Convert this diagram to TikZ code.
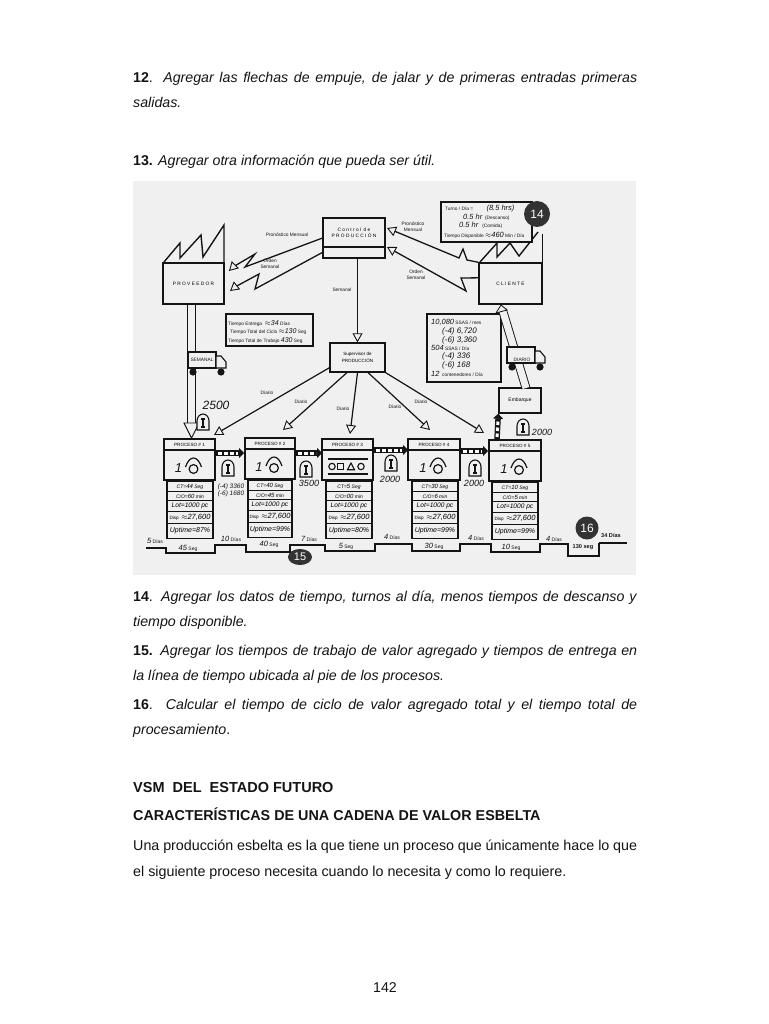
\documentclass[tikz,border=0pt]{standalone}
\usepackage{fontspec}
\setmainfont{Liberation Sans}
\usetikzlibrary{arrows.meta,calc,shapes.geometric}
\newcommand{\fsz}[1]{\fontsize{#1}{#1}\selectfont}
\newcommand{\bnum}[1]{{\itshape\fsz{9}#1}}
\definecolor{panel}{HTML}{F0F0F0}
\definecolor{badge}{HTML}{333333}
\definecolor{ink}{HTML}{141414}
\tikzset{
  x=1pt,y=-1pt,
  para/.style={anchor=base west,inner sep=0pt,font=\fsz{14.2},text=ink},
  boxn/.style={draw=ink,line width=1.4pt,fill=panel,inner sep=0pt,align=center,font=\fsz{4.6}},
  lab/.style={inner sep=0pt,align=center,font=\fsz{4.8},text=ink},
  tlab/.style={inner sep=0pt,font=\fsz{5},text=ink},
  infol/.style={anchor=base west,inner sep=0pt,font=\fsz{4.8},text=ink},
  openhead/.style={-{Triangle[open,fill=panel,length=9pt,width=10pt,line width=0.9pt]}},
  conn/.style={draw=ink,line width=1.2pt,openhead},
  zig/.style={draw=ink,line width=1.3pt,openhead},
  bigarrow/.style={draw=ink,line width=0.9pt,double=panel,double distance=7pt},
  badgen/.style={circle,fill=badge,text=white,inner sep=0pt,minimum size=24pt,font=\fsz{12}},
  tomb/.pic={
    \draw[ink,line width=1.1pt,fill=panel] (-6,8) -- (-6,-1) arc[start angle=180,end angle=360,x radius=6,y radius=7] -- (6,8) -- cycle;
    \draw[ink,line width=1.1pt] (0,-3) -- (0,5) (-2,-3) -- (2,-3) (-2,5) -- (2,5);
  },
  truck/.pic={
    \draw[ink,line width=1.1pt,fill=panel] (0,0) rectangle (28,16);
    \draw[ink,line width=1.1pt,fill=panel] (28,16) -- (28,4) -- (33,4) -- (38,10) -- (38,16) -- cycle;
    \fill[ink] (5,20) circle[radius=3.6] (33,20) circle[radius=3.6];
  },
}
\newcommand{\pusharrow}[2]{%
  \draw[ink,line width=5.5pt,-{Triangle[length=5pt,width=10pt]}] (#1) -- (#2);
  \draw[white,line width=3pt,dash pattern=on 3.5pt off 2.5pt,shorten >=6pt,shorten <=2pt] (#1) -- (#2);
}
\begin{document}
\begin{tikzpicture}
\useasboundingbox (0,0) rectangle (768,1024);
\fill[white] (0,0) rectangle (768,1024);

% page text
\node[para] (t1) at (133,83) {\makebox[504pt][s]{\textbf{12}. \textit{Agregar las flechas de empuje, de jalar y de primeras entradas primeras}}};
\node[para] (t2) at (133,108) {\textit{salidas.}};
\node[para] (t3) at (133,166) {\textbf{13.} \textit{Agregar otra información que pueda ser útil.}};
\node[para] (t4) at (133,601) {\makebox[504pt][s]{\textbf{14}. \textit{Agregar los datos de tiempo, turnos al día, menos tiempos de descanso y}}};
\node[para] (t5) at (133,626) {\textit{tiempo disponible.}};
\node[para] (t6) at (133,655) {\makebox[504pt][s]{\textbf{15.} \textit{Agregar los tiempos de trabajo de valor agregado y tiempos de entrega en}}};
\node[para] (t7) at (133,680) {\textit{la línea de tiempo ubicada al pie de los procesos.}};
\node[para] (t8) at (133,709) {\makebox[504pt][s]{\textbf{16}. \textit{Calcular el tiempo de ciclo de valor agregado total y el tiempo total de}}};
\node[para] (t9) at (133,734) {\textit{procesamiento}.};
\node[para,font=\fsz{14.5}] (t10) at (133,792) {\textbf{VSM\ \ DEL\ \ ESTADO FUTURO}};
\node[para,font=\fsz{14.35}] (t11) at (133,820) {\textbf{CARACTERÍSTICAS DE UNA CADENA DE VALOR ESBELTA}};
\node[para,font=\fsz{14.3}] (t12) at (133,850) {\makebox[504pt][s]{Una producción esbelta es la que tiene un proceso que únicamente hace lo que}};
\node[para,font=\fsz{14.3}] (t13) at (133,876) {el siguiente proceso necesita cuando lo necesita y como lo requiere.};
\node[para,anchor=base] (t14) at (385,992) {142};

% panel
\fill[panel] (133,181) rectangle (636,575);

% factories
\draw[ink,line width=1.4pt,line join=miter] (164,262) -- (180,243) -- (180,258) -- (201,235) -- (203,257) -- (224,225) -- (224,263);
\draw[ink,line width=1.4pt] (480,262) -- (497,243) -- (497,257) -- (510,243) -- (519,256) -- (538,232);
\draw[ink,line width=0.6pt] (542,234) -- (542,263);

% main boxes
\node[boxn,minimum width=61pt,minimum height=41pt,font=\fsz{4.8}] (prov) at (193.5,283.5) {P R O V E E D O R};
\node[boxn,minimum width=63pt,minimum height=41pt,font=\fsz{4.8}] (cli) at (510.5,283.5) {C L I E N T E};
\node[boxn,minimum width=62pt,minimum height=29pt,font=\fsz{4.8},align=center] (ctrl) at (354,232.5) {C o n t r o l\ \ d e\\[1.5pt]P R O D U C C I Ó N};
\node[boxn,minimum width=62pt,minimum height=11pt] (ctrlb) at (354,252.5) {};
\node[boxn,minimum width=55pt,minimum height=29pt,font=\fsz{4.6}] (sup) at (357.5,357.5) {Supervisor de\\[1.5pt]PRODUCCIÓN};
\node[boxn,minimum width=42pt,minimum height=25pt,font=\fsz{5}] (emb) at (520,400.5) {Embarque};

% info boxes
\node[boxn,minimum width=87pt,minimum height=32pt] (info1) at (269.5,330) {};
\node[infol] (i1a) at (228,325) {Tiempo Entrega {\itshape\fsz{7}\,$\approx$34} Días};
\node[infol] (i1b) at (230,333.5) {Tiempo Total del Ciclo {\itshape\fsz{7}$\approx$130} Seg};
\node[infol] (i1c) at (228,342) {Tiempo Total de Trabajo {\itshape\fsz{7}430} Seg};

\node[boxn,minimum width=91pt,minimum height=40pt] (info2) at (486.5,222) {};
\node[infol] (i2a) at (445,211) {Turno / Día = \hspace{12pt}{\itshape\fsz{7.5}(8.5 hrs)}};
\node[infol] (i2b) at (463,219) {{\itshape\fsz{7.5}0.5 hr}\ \ (Descanso)};
\node[infol] (i2c) at (459,228) {{\itshape\fsz{7.5}0.5 hr}\ \ \ (Comida)};
\node[infol] (i2d) at (444,237) {Tiempo Disponible {\itshape\fsz{7.5}$\approx$460} Min / Día};

\node[boxn,minimum width=74pt,minimum height=68pt] (info3) at (464,348) {};
\node[infol] (i3a) at (431,324) {{\itshape\fsz{7.5}10,080} SSAS / mes};
\node[infol] (i3b) at (442,333) {\itshape\fsz{8}(-4) 6,720};
\node[infol] (i3c) at (442,342) {\itshape\fsz{8}(-6) 3,360};
\node[infol] (i3d) at (431,350) {{\itshape\fsz{7.5}504} SSAS / Día};
\node[infol] (i3e) at (442,358) {\itshape\fsz{8}(-4) 336};
\node[infol] (i3f) at (442,367) {\itshape\fsz{8}(-6) 168};
\node[infol] (i3g) at (431,376) {{\itshape\fsz{7.5}12}\ \ contenedores / Día};

% badges
\node[badgen,minimum size=26pt] (b14) at (537,214) {14};
\node[badgen,minimum size=23pt] (b16) at (587,528) {16};
\node[ellipse,fill=badge,text=white,inner sep=0pt,minimum width=24pt,minimum height=16pt,font=\fsz{11}] (b15) at (300,557) {15};

% processes
\foreach \n/\xa/\xb/\ya/\da/\db/\ttl/\ct/\co/\upt in {
  p1/164/215/439/167/213/1/44/60/87,
  p2/245/295/438/248/292/2/40/45/99,
  p3/322/373/439/326/372/3/5/00/80,
  p4/408/460/439/412/458/4/30/6/99,
  p5/489/541/440/492/538/5/10/5/99}{
  \pgfmathsetmacro\pmx{(\xa+\xb)/2}
  \pgfmathsetmacro\pwid{\xb-\xa}
  \pgfmathsetmacro\dmx{(\da+\db)/2}
  \pgfmathsetmacro\dwid{\db-\da}
  \node[boxn,minimum width=\pwid pt,minimum height=11pt,font=\fsz{4.6}] (\n h) at (\pmx,\ya+5.5) {PROCESO \# \ttl};
  \node[boxn,minimum width=\pwid pt,minimum height=30pt] (\n b) at (\pmx,\ya+26) {};
  \node[boxn,minimum width=\dwid pt,minimum height=9.5pt,font=\fsz{5}\itshape] (\n d1) at (\dmx,\ya+47.5) {CT={\fsz{6}\ct} Seg};
  \node[boxn,minimum width=\dwid pt,minimum height=9.5pt,font=\fsz{5}\itshape] (\n d2) at (\dmx,\ya+57) {C/O={\fsz{6}\co} min};
  \node[boxn,minimum width=\dwid pt,minimum height=11pt,font=\fsz{6.6}\itshape] (\n d3) at (\dmx,\ya+67.2) {Lot=1000 pc};
  \node[boxn,minimum width=\dwid pt,minimum height=12pt,font=\fsz{4.6}] (\n d4) at (\dmx,\ya+78.7) {Disp\ \ {\itshape\fsz{7.5}$\approx$27,600}};
  \node[boxn,minimum width=\dwid pt,minimum height=14.5pt,font=\fsz{7}\itshape] (\n d5) at (\dmx,\ya+92) {Uptime=\upt\%};
}
% operator icons
\foreach \n in {p1,p2,p4,p5}{
  \node[inner sep=0pt,font=\fsz{13}\itshape,text=ink] (\n one) at ($(\n b.center)+(-11,3)$) {1};
  \draw[ink,line width=1.2pt] ($(\n b.center)+(4,4)$) circle[radius=4.4];
  \draw[ink,line width=1.2pt] ($(\n b.center)+(-4,2)$) .. controls ($(\n b.center)+(0,-10)$) and ($(\n b.center)+(8,-10)$) .. ($(\n b.center)+(12,2)$);
}
\draw[ink,line width=1.4pt] ($(p3b.center)+(-20,-6)$) -- ($(p3b.center)+(20,-6)$) ($(p3b.center)+(-20,9)$) -- ($(p3b.center)+(20,9)$);
\draw[ink,line width=1.1pt] ($(p3b.center)+(-15.5,1.5)$) circle[radius=3.2];
\draw[ink,line width=1.1pt] ($(p3b.center)+(-10,-1.7)$) rectangle ($(p3b.center)+(-3.6,4.7)$);
\draw[ink,line width=1.1pt] ($(p3b.center)+(0,4.7)$) -- ($(p3b.center)+(3.5,-2)$) -- ($(p3b.center)+(7,4.7)$) -- cycle;
\draw[ink,line width=1.1pt] ($(p3b.center)+(13.5,1.5)$) circle[radius=3.2];

% shipment arrows and trucks
\coordinate (shipin) at (191.5,438);
\coordinate (shiptop) at (191.5,424);
\draw[bigarrow] (prov.south -| shipin) -- (shiptop);
\draw[ink,line width=0.9pt,fill=panel,line join=miter] (184,423) -- (199,423) -- (shipin) -- cycle;
\coordinate (shipcli) at (501,305);
\coordinate (shipemb) at (526,388);
\draw[bigarrow,shorten >=5pt] (shipemb) -- (shipcli);
\draw[ink,line width=0.8pt,fill=panel] (496,313) -- (shipcli) -- (507,310) -- cycle;
\pic at (188,352) {truck};
\node[lab,font=\fsz{4.8}] (trk1) at (202,360) {SEMANAL};
\pic at (507,347) {truck};
\node[lab,font=\fsz{4.8}] (trk2) at (522,360) {DIARIO};

% information arrows
\coordinate (provA) at (229,271);
\coordinate (provB) at (230,291);
\coordinate (ctlA) at (387,228);
\coordinate (ctlB) at (387,247);
\draw[zig] (ctrl.190) -- (245,267) -- (255,254) -- (233,267) -- (provA);
\draw[zig] (ctrlb.west) -- (255,289) -- (259,274) -- (235,287) -- (provB);
\draw[zig] (cli.north west) -- (467,260) -- (463,249) -- (459,258) -- (ctlA);
\draw[zig] (cli.170) -- (461,278) -- (466,291) -- (ctlB);
\draw[conn] (ctrlb.south -| sup.north) -- (sup.north);

\coordinate (d1) at (214,435);
\coordinate (d2) at (283,430);
\coordinate (d3) at (350,434);
\coordinate (d4) at (430,430);
\coordinate (d5) at (484,433);
\draw[conn] (sup.200) -- (d1);
\draw[conn] (sup.235) -- (d2);
\draw[conn] (sup.south) -- (d3);
\draw[conn] (sup.305) -- (d4);
\draw[conn] (sup.south east) -- (d5);

% push arrows
\coordinate (pa1) at (216,453); \coordinate (pb1) at (244,453);
\coordinate (pa2) at (296,453); \coordinate (pb2) at (322,453);
\coordinate (pa3) at (374,450); \coordinate (pb3) at (408,450);
\coordinate (pa4) at (461,451); \coordinate (pb4) at (488,451);
\coordinate (pa5) at (497,439);
\pusharrow{pa1}{pb1}
\pusharrow{pa2}{pb2}
\pusharrow{pa3}{pb3}
\pusharrow{pa4}{pb4}
\pusharrow{pa5}{emb.south west}

% inventory
\pic at (203,422) {tomb};
\pic at (228,468) {tomb};
\pic at (306,469) {tomb};
\pic at (391,463) {tomb};
\pic at (475,468) {tomb};
\pic at (523,427) {tomb};
\node[tlab,font=\fsz{12}\itshape] (q1) at (216,405) {2500};
\node[tlab,font=\fsz{6.5}\itshape,align=left] (q2) at (231,490.5) {(-4) 3360\\[1pt](-6) 1680};
\node[tlab] (q3) at (309,483) {\bnum{3500}};
\node[tlab] (q4) at (390,479) {\bnum{2000}};
\node[tlab] (q5) at (474,483) {\bnum{2000}};
\node[tlab] (q6) at (542,432) {\bnum{2000}};

% labels
\node[lab] (l1) at (287,235) {Pronóstico Mensual};
\node[lab] (l2) at (270,264) {Orden\\[1pt]Semanal};
\node[lab] (l3) at (342,290) {Semanal};
\node[lab] (l4) at (413,227) {Pronóstico\\[1pt]Mensual};
\node[lab] (l5) at (416,275) {Orden\\[1pt]Semanal};
\node[lab] (l6) at (267,393) {Diario};
\node[lab] (l7) at (301,402) {Diario};
\node[lab] (l8) at (343,409) {Diario};
\node[lab] (l9) at (395,407) {Diario};
\node[lab] (l10) at (421,402) {Diario};

% timeline
\coordinate (tl0) at (146,548);
\coordinate (tl1) at (627,543);
\draw[ink,line width=1.2pt] (tl0) -- (166,548) -- (166,553) -- (215,553) -- (215,545) -- (246,545) -- (246,552) -- (290,552) -- (290,545) -- (325,545) -- (325,551) -- (375,551) -- (375,544) -- (412,544) -- (412,551) -- (460,551) -- (460,544) -- (491,544) -- (491,552) -- (540,552) -- (540,544) -- (568,544) -- (568,556) -- (599,556) -- (599,543);
\draw[ink,line width=2pt] (599,543) -- (tl1);
\node[tlab] (s1) at (155,541) {{\itshape\fsz{7.5}5} Días};
\node[tlab] (s2) at (188,548) {{\itshape\fsz{7.5}45} Seg};
\node[tlab] (s3) at (231,539) {{\itshape\fsz{7.5}10} Días};
\node[tlab] (s4) at (269,544) {{\itshape\fsz{7.5}40} Seg};
\node[tlab] (s5) at (309,539) {{\itshape\fsz{7.5}7} Días};
\node[tlab] (s6) at (346,546) {{\itshape\fsz{7.5}5} Seg};
\node[tlab] (s7) at (392,537) {{\itshape\fsz{7.5}4} Días};
\node[tlab] (s8) at (434,546) {{\itshape\fsz{7.5}30} Seg};
\node[tlab] (s9) at (476,538) {{\itshape\fsz{7.5}4} Días};
\node[tlab] (s10) at (511,547) {{\itshape\fsz{7.5}10} Seg};
\node[tlab] (s11) at (554,539) {{\itshape\fsz{7.5}4} Días};
\node[tlab,font=\fsz{5.6}\bfseries] (s12) at (583,547) {130 seg};
\node[tlab,font=\fsz{5.6}\bfseries] (s13) at (611,535) {34 Días};
\end{tikzpicture}
\end{document}
